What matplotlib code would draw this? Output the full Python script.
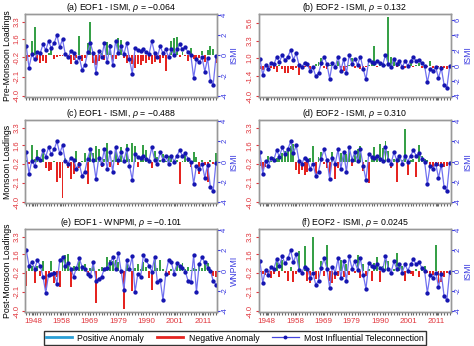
import numpy as np
import matplotlib.pyplot as plt
from matplotlib.lines import Line2D
from matplotlib.ticker import MultipleLocator

plt.rcParams['font.family'] = ['Liberation Sans', 'DejaVu Sans']
plt.rcParams['mathtext.fontset'] = 'custom'
plt.rcParams['mathtext.rm'] = 'Liberation Sans'
plt.rcParams['mathtext.it'] = 'Liberation Sans:italic'

years = np.arange(1948, 2017)

# teleconnection indices (standardised)
ismi = [0.9, -1.2, 0.1, -0.4, 0.35, 0.2, 1.1, 0.5, 1.4, 0.7, 1.2, 2.0, 0.8, 1.6, 0.1, -0.2, 0.4, 0.2,
        -0.7, -0.2, -1.4, -1.0, 0.3, 1.2, 0.2, -1.7, 0.4, -0.2, 1.2, -0.7, 0.9, -1.0, 1.4, 0.2, 0.9, 0.1,
        1.2, -0.4, -1.8, 0.7, 0.5, 0.4, 0.6, 0.3, 0.1, 1.4, 0.2, -0.2, 0.9, 0.2, 0.6, -0.2, 0.6, 0.0,
        0.6, 1.1, 0.6, 0.8, 0.3, 0.0, -2.2, -0.4, -0.7, -0.2, -1.6, -0.3, -2.5, -2.9, -0.1]
wnpmi = [2.0, 0.5, 0.8, 0.2, 1.0, 0.5, -0.6, -2.2, -0.4, -0.3, -0.2, -1.3, 1.0, 1.3, 0.5, 0.7, 0.2,
         -0.6, 0.3, 1.2, 0.4, 0.2, -0.3, -0.5, 0.8, -1.0, -0.8, -0.6, 0.2, 0.3, 0.7, 1.3, 0.2, 1.7,
         0.0, -1.9, 1.0, 0.2, 1.4, -2.1, -0.3, -0.6, 1.5, 1.0, 0.5, -0.1, 1.3, -1.1, -0.9, -2.9,
         -0.3, 1.0, 0.8, -0.3, 0.7, 0.5, 0.3, -0.1, -1.0, -1.1, 1.5, -2.1, 0.6, 1.3, 0.8, 0.3, 0.0,
         -1.0, -1.4]

# EOF loadings
eof1_pre = [-0.6, -0.2, 1.4, 2.8, -0.5, -0.8, -0.6, -0.8, 0.2, 0.6, -0.4, -0.2, -0.1, -0.1, -0.1,
            -0.3, -0.9, -0.5, -0.3, 1.9, -0.6, -0.3, 1.2, 3.3, -0.8, -1.0, -0.6, 0.2, -0.5, 1.3, 1.1,
            -0.6, -0.4, 1.7, 1.5, -0.3, -0.8, -0.6, -0.9, -1.2, -0.9, -1.0, -0.6, -0.8, -0.5, -0.9,
            -0.7, -0.3, -0.8, -0.3, -1.5, -0.4, 1.4, 1.7, 1.8, -0.2, 0.3, -0.1, -0.6, 0.7, -0.4,
            -0.6, -0.3, 0.4, -0.7, 0.5, 0.9, 0.6, -0.8]
eof2_pre = [-0.4, -0.6, -0.2, -0.7, -0.3, -0.5, -0.8, 0.1, -0.5, -0.9, -1.0, -0.4, -0.6, -0.3, -1.2,
            -0.4, -0.2, 0.1, -0.5, -0.3, 0.2, 0.5, 1.0, -0.3, -0.5, 0.1, 0.3, -0.2, 0.6, -0.8, -0.7,
            -0.2, 0.1, 1.0, -0.3, 0.1, -0.4, -0.6, -0.2, 0.1, 0.3, 2.6, -0.2, 0.2, 0.4, 0.1, 6.4, 1.1,
            0.9, -0.2, 0.3, -0.4, -0.3, 0.2, 0.3, -0.2, 0.1, 0.4, -0.3, 0.1, -0.2, 0.6, -0.3, -0.4,
            -0.2, -0.5, -0.3, -0.4, -0.3]
eof1_mon = [0.2, -0.2, 1.6, 0.3, 1.1, 0.5, 1.0, -0.6, -0.9, -0.8, 0.1, -2.0, -1.6, -3.6, 0.4, -0.6,
            -1.7, -1.2, 1.0, -0.6, 0.1, 0.8, -2.2, 1.3, 0.8, 1.5, 1.2, -0.5, 0.3, 1.8, -0.5, 0.2, 1.5,
            -0.3, 1.4, 0.2, 1.7, 0.3, 1.8, 1.5, -0.5, 0.2, 1.6, 1.1, 0.3, -0.6, 1.0, 0.5, 0.2, 0.7,
            0.1, 0.6, 0.4, 0.1, 0.2, -2.2, 0.1, 0.8, 0.2, -0.5, 0.9, 0.5, -1.2, 0.2, -0.3, -2.0, 0.2,
            -0.2, 0.8]
eof2_mon = [-0.4, -0.8, -0.5, 0.6, 0.1, 0.5, 0.4, 0.7, 0.8, 1.0, 1.2, 1.5, 1.7, -0.8, -1.2, -0.8,
            -1.3, -1.0, 0.4, 1.5, -1.2, 0.5, 0.9, -0.2, -0.6, -1.2, 0.9, -1.7, -0.6, 0.8, 1.0, 0.7,
            1.2, -0.4, 0.9, 1.2, 1.5, -0.9, 0.2, -2.1, 0.3, 1.4, 0.6, 1.7, 1.3, 2.0, 1.0, -0.6, 0.3,
            -2.0, 0.4, 0.2, 3.2, -1.3, 0.2, 0.3, -1.5, 1.6, 0.6, 0.3, 0.2, -0.3, -0.5, -0.2, -0.4,
            -0.3, -0.5, -0.4, -0.2]
eof1_post = [-1.5, 0.3, 0.5, -1.2, 0.5, -0.5, 0.9, -1.9, -0.3, 0.9, -1.2, -0.6, -1.6, 1.3, 1.5, 1.6,
             -1.6, 0.5, 0.2, 1.0, 0.3, 0.6, -0.2, 0.3, 0.8, -3.2, 0.2, 0.4, 0.1, 1.3, 1.0, 0.9, 1.0,
             0.8, -0.3, -3.8, 1.1, 0.2, -2.0, 0.3, 0.6, 0.2, 0.8, 0.4, -0.7, -1.9, 1.0, 0.3, 1.0, 0.2,
             -0.5, -0.4, 0.2, 0.1, 0.8, 0.3, 0.7, 0.2, 0.4, 0.1, 0.3, 0.2, 0.5, 0.3, 0.9, 0.7, 0.2,
             -0.5, -0.6]
eof2_post = [-0.1, -0.3, -0.4, -0.6, -0.7, -0.3, 0.9, -0.6, 1.0, -0.2, -1.0, 0.4, -1.1, -0.3, 1.9,
             -0.4, 2.4, -1.0, -1.2, 3.3, -0.8, -0.8, 0.9, -0.5, 2.5, -1.0, -1.2, -0.8, -0.5, 1.0, -0.6,
             0.6, -0.4, 0.3, -0.2, 1.5, -0.7, 0.6, -0.5, 0.2, -1.0, 0.7, 1.3, -1.1, 0.5, 1.0, 0.9,
             -0.3, 0.2, 1.7, 0.7, 0.5, -1.0, 0.2, -0.3, -0.5, 0.2, -0.6, 0.1, 0.5, -0.2, -0.3, -0.4,
             2.5, -1.2, -1.1, -0.6, -0.2, -0.4]

titles = ["(a) EOF1 - ISMI", "(b) EOF2 - ISMI", "(c) EOF1 - ISMI",
          "(d) EOF2 - ISMI", "(e) EOF1 - WNPMI", "(f) EOF2 - ISMI"]
rhos = ["-0.064", "0.132", "-0.488", "0.310", "-0.101", "0.0245"]
loadings = [eof1_pre, eof2_pre, eof1_mon, eof2_mon, eof1_post, eof2_post]
indices = [ismi, ismi, ismi, ismi, wnpmi, ismi]
index_names = ["ISMI", "ISMI", "ISMI", "ISMI", "WNPMI", "ISMI"]
row_labels = ["Pre-Monsoon Loadings", "Monsoon Loadings", "Post-Monsoon Loadings"]
year_labels = ["1948", "1958", "1969", "1979", "1990", "2001", "2011"]

green = '#36a047'
red = '#e52420'
blue = '#3b3be0'
redtxt = '#e0353c'

fig = plt.figure(figsize=(4.74, 3.46), dpi=100)
lefts = [0.053, 0.546]
bottoms = [0.720, 0.413, 0.098]

for k in range(6):
    row, col = k // 2, k % 2
    ax = fig.add_axes([lefts[col], bottoms[row], 0.405, 0.240])
    vals = np.array(loadings[k])
    cols = [green if v > 0 else red for v in vals]
    ax.bar(years, vals, width=0.7, color=cols, linewidth=0)

    if k == 1:
        ylim = (-4.1, 6.8)
        lticks = [-4.0, -1.4, 1.0, 3.3, 5.6]
        rticks = [-4, -2, 0, 2, 4, 6]
    else:
        ylim = (-4.1, 4.1)
        lticks = [-4.0, -2.1, -0.2, 1.6, 3.3]
        rticks = [-4, -2, 0, 2, 4]
    ax.set_ylim(ylim)
    ax.set_xlim(1947.6, 2016.4)
    ax.set_yticks(lticks)
    ax.set_yticklabels(["%.1f" % t for t in lticks], rotation=90, va='center')
    ax.tick_params(axis='y', colors=redtxt, labelsize=5.5, length=2, pad=1.5)

    ax.set_xticks(np.linspace(1950.4, 2011.3, 7))
    ax.xaxis.set_minor_locator(MultipleLocator(1))
    ax.tick_params(axis='x', which='both', length=2.2, width=0.8, color='#666666', pad=2)
    if row == 2:
        ax.set_xticklabels(year_labels, color=redtxt, fontsize=5.8)
    else:
        ax.set_xticklabels([])

    ax2 = ax.twinx()
    ax2.plot(years, indices[k], color='#7070f0', lw=0.9, marker='o', ms=2.1,
             mfc='#1414b0', mec='#1414b0')
    ax2.set_ylim(ylim)
    ax2.set_yticks(rticks)
    ax2.set_yticklabels([str(t) for t in rticks], rotation=90, va='center')
    ax2.tick_params(axis='y', colors=blue, labelsize=5.5, length=2, pad=1)
    ax2.set_ylabel(index_names[k], color=blue, fontsize=6.3, rotation=90, labelpad=1)

    for a in (ax, ax2):
        for s in a.spines.values():
            s.set_color('#999999')
            s.set_linewidth(1.0)

    ax.set_title(titles[k] + r", $\rho$ = $\mathit{" + rhos[k] + "}$", fontsize=6.3, pad=3)
    if col == 0:
        ax.set_ylabel(row_labels[row], fontsize=6.3, labelpad=1)

handles = [Line2D([], [], color='#2a9fd6', lw=2),
           Line2D([], [], color=red, lw=2),
           Line2D([], [], color='#4444dd', lw=0.9, marker='o', ms=1.8,
                  mfc='#1414b0', mec='#1414b0')]
fig.legend(handles, ["Positive Anomaly", "Negative Anomaly", "Most Influential Teleconnection"],
           loc='center', bbox_to_anchor=(0.495, 0.023), ncol=3, fontsize=6.3,
           frameon=True, fancybox=False, edgecolor='black', handlelength=3.0,
           borderpad=0.25, columnspacing=1.5, handletextpad=0.6)

fig.savefig("out.png", dpi=100)
